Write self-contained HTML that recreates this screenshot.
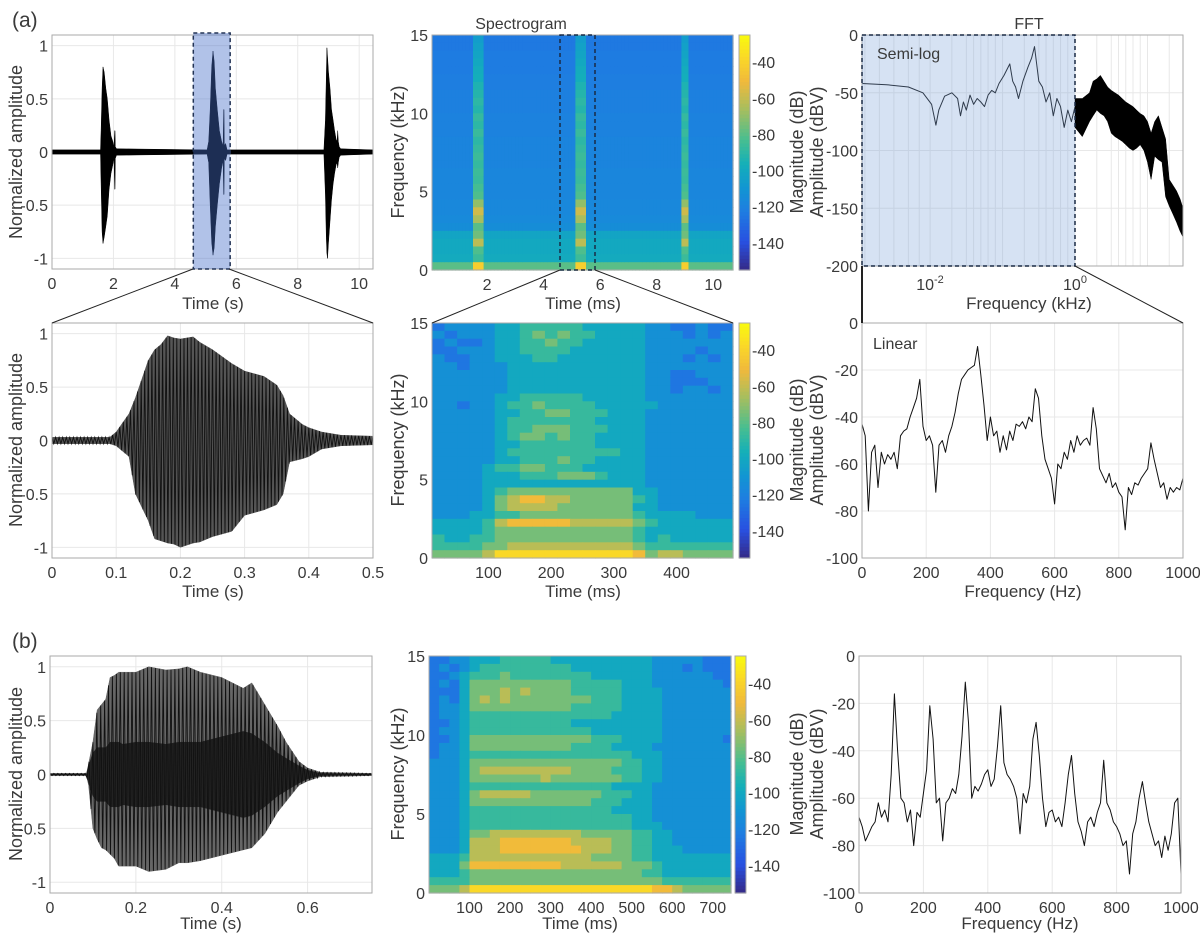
<!DOCTYPE html>
<html><head><meta charset="utf-8">
<style>
html,body{margin:0;padding:0;background:#fff;}
svg{display:block;font-family:"Liberation Sans",sans-serif;}
text{fill:#3a3a3a;}
</style></head>
<body>
<svg id="fig" width="1200" height="938" viewBox="0 0 1200 938" xmlns="http://www.w3.org/2000/svg"></svg>
<script>
// ---------------- DATA ----------------
const wf1T  = [0,1.58,1.6,1.63,1.66,1.7,1.75,1.8,1.86,1.92,1.98,2.02,2.04,2.05,2.06,2.1,5.05,5.1,5.15,5.2,5.24,5.28,5.32,5.38,5.45,5.52,5.57,5.59,5.6,5.61,5.65,5.7,8.85,8.9,8.93,8.95,8.97,9.0,9.05,9.1,9.15,9.2,9.25,9.28,9.3,9.32,9.35,9.4,10.45];
const wf1Up = [.02,.02,.2,.6,.8,.75,.6,.5,.3,.15,.1,.05,.2,.2,.05,.03,.02,.1,.4,.8,.95,.85,.6,.4,.2,.1,.06,.4,.4,.06,.08,.02,.02,.3,.7,.98,.9,.75,.6,.4,.3,.2,.12,.1,.2,.1,.05,.03,.02];
const wf1Lo = [-.02,-.02,-.3,-.75,-.86,-.8,-.7,-.6,-.35,-.2,-.12,-.06,-.35,-.35,-.06,-.03,-.02,-.1,-.5,-.85,-.97,-.9,-.7,-.5,-.3,-.15,-.08,-.4,-.4,-.06,-.08,-.02,-.02,-.4,-.8,-.95,-1.0,-.85,-.65,-.45,-.3,-.2,-.12,-.1,-.15,-.1,-.05,-.03,-.02];
const wf2T  = [0,.09,.1,.12,.13,.15,.16,.17,.18,.19,.2,.22,.23,.25,.28,.3,.33,.35,.36,.37,.39,.4,.42,.45,.5];
const wf2Up = [.03,.03,.08,.25,.4,.75,.85,.9,.98,.96,.95,.97,.92,.85,.72,.65,.6,.52,.42,.25,.15,.12,.08,.05,.04];
const wf2Lo = [-.03,-.03,-.05,-.15,-.5,-.75,-.92,-.94,-.96,-.97,-1.0,-.96,-.95,-.9,-.85,-.7,-.65,-.6,-.5,-.2,-.17,-.15,-.08,-.05,-.04];
const wf2F0 = 180;
const wf3T  = [0,.085,.09,.1,.11,.12,.13,.14,.15,.16,.17,.2,.23,.27,.3,.32,.35,.4,.45,.47,.5,.53,.55,.58,.6,.63,.75];
const wf3Up = [.01,.01,.1,.3,.6,.65,.7,.9,.92,.95,.95,.95,1.0,.97,.98,1.0,.95,.9,.8,.85,.65,.45,.3,.12,.06,.02,.01];
const wf3Lo = [-.01,-.01,-.1,-.5,-.6,-.68,-.7,-.74,-.78,-.85,-.85,-.85,-.9,-.88,-.82,-.82,-.8,-.75,-.7,-.68,-.55,-.35,-.25,-.1,-.06,-.02,-.01];
const wf3Inner = [.005,.005,.08,.2,.25,.25,.25,.3,.3,.3,.28,.3,.3,.28,.3,.3,.3,.35,.4,.38,.3,.2,.15,.08,.04,.01,.005];
const wf3F0 = 110;

const sp1Bg    = [-124,-124,-123,-123,-123,-122,-122,-121,-121,-121,-120,-120,-120,-119,-119,-119,-119,-118,-118,-118,-118,-117,-117,-116,-114,-102,-100,-100,-99,-80];
const sp1Event = [-106,-104,-102,-100,-98,-97,-94,-92,-90,-92,-88,-90,-87,-90,-88,-86,-88,-86,-87,-84,-82,-70,-58,-66,-80,-76,-62,-82,-86,-42];
const sp1Times = [1.72, 5.3, 9.0];
const sp1Width = [0.32, 0.32, 0.32];
const sp2T0 = 10, sp2Dt = 20;
const sp2Rows = [
"2333"+"3"+"4455555444443"+"322322",
"3233"+"3"+"4456565544443"+"332323",
"2322"+"3"+"4455655444443"+"333333",
"2233"+"3"+"4455554444443"+"333233",
"3223"+"3"+"4445544444443"+"332323",
"3323"+"3"+"3444444444443"+"333333",
"3333"+"3"+"3444444444443"+"322333",
"3333"+"3"+"3444444444443"+"322233",
"3333"+"3"+"3444444444443"+"323323",
"3333"+"3"+"4455555444443"+"333333",
"3323"+"3"+"4556555544444"+"333333",
"3333"+"3"+"4455665554443"+"333333",
"3333"+"3"+"4555555544443"+"333333",
"3333"+"3"+"4556665554443"+"333333",
"3333"+"3"+"4566565544443"+"333333",
"3333"+"3"+"4455555544443"+"333333",
"3333"+"3"+"4555555555443"+"333333",
"3333"+"3"+"4455565544443"+"333333",
"3333"+"4"+"5566555444443"+"333333",
"3333"+"4"+"4455566654443"+"333333",
"3333"+"4"+"4444444444443"+"333333",
"3333"+"4"+"5666666666644"+"333333",
"3333"+"4"+"6788776666654"+"333333",
"3333"+"4"+"6777766666644"+"333333",
"3334"+"4"+"5566666666654"+"444333",
"4444"+"5"+"7888887777765"+"444444",
"4444"+"5"+"6666666666654"+"444444",
"5445"+"5"+"6666666666654"+"544444",
"5555"+"6"+"6777777777765"+"555555",
"6666"+"7"+"9999999999986"+"776666"];
const sp3T0 = 0, sp3Dt = 25;
const sp3Rows = [
"223"+"3"+"44455555444444444433"+"333222",
"232"+"3"+"45555555554444444433"+"323222",
"223"+"4"+"55565555555544444433"+"333322",
"232"+"4"+"66666666665555544433"+"333332",
"222"+"4"+"66676766665555544443"+"333333",
"232"+"4"+"67676666666655544443"+"333333",
"233"+"4"+"66666666665555544443"+"333333",
"233"+"4"+"55555555555555444443"+"333333",
"223"+"4"+"55555555554444444443"+"333333",
"233"+"4"+"55555555555544444443"+"333333",
"223"+"4"+"66666666666655544443"+"333332",
"233"+"4"+"66666666665555444433"+"333333",
"233"+"4"+"55555555555555554443"+"333333",
"333"+"4"+"66666666666666655443"+"333333",
"333"+"4"+"67777777776666555443"+"333333",
"333"+"4"+"66666667666666655443"+"333333",
"333"+"4"+"55555555555555444433"+"333333",
"333"+"4"+"67777766666665554433"+"333333",
"333"+"4"+"66666666666655544433"+"333333",
"333"+"4"+"55555555555555444433"+"333333",
"333"+"4"+"55555555555555554433"+"333333",
"333"+"4"+"55555555555555554443"+"333333",
"333"+"4"+"66777777777666665544"+"333333",
"333"+"4"+"77788888887777665544"+"333333",
"333"+"4"+"77788888888777665544"+"433333",
"444"+"5"+"77777777777766665544"+"444444",
"444"+"6"+"88888888877777766654"+"444444",
"444"+"5"+"66666666666666666554"+"444444",
"555"+"5"+"66666666666666666665"+"555555",
"666"+"7"+"99999999999999999988"+"766666"];

const fftLogF  = [-2.94,-2.6,-2.3,-2.1,-1.98,-1.92,-1.88,-1.8,-1.7,-1.62,-1.58,-1.54,-1.5,-1.45,-1.4,-1.35,-1.3,-1.25,-1.2,-1.15,-1.1,-1.05,-0.98,-0.9,-0.86,-0.82,-0.78,-0.72,-0.65,-0.6,-0.56,-0.5,-0.45,-0.4,-0.35,-0.3,-0.25,-0.2,-0.15,-0.1,-0.05,0];
const fftLogDb = [-42,-43,-45,-50,-60,-78,-65,-53,-50,-55,-70,-58,-65,-52,-60,-55,-58,-62,-52,-48,-50,-42,-35,-25,-40,-45,-55,-40,-28,-20,-10,-40,-45,-58,-50,-70,-55,-62,-80,-65,-75,-62];
const fftHiF   = [0,0.1,0.2,0.25,0.3,0.35,0.4,0.45,0.5,0.55,0.6,0.65,0.7,0.75,0.8,0.85,0.9,0.95,1.0,1.05,1.1,1.15,1.2,1.25,1.3,1.35,1.4,1.45,1.49];
const fftHiUp  = [-55,-55,-50,-40,-38,-35,-40,-45,-48,-50,-52,-55,-58,-60,-62,-65,-68,-70,-75,-85,-75,-70,-80,-90,-125,-130,-135,-142,-150];
const fftHiLo  = [-80,-88,-75,-70,-65,-68,-70,-75,-85,-88,-90,-92,-95,-98,-100,-98,-95,-100,-110,-125,-105,-108,-110,-140,-148,-155,-162,-170,-175];

const fft2F = []; for (let i=0;i<=100;i++) fft2F.push(i*10);
const fft2Db = [-43,-48,-80,-55,-52,-70,-55,-60,-56,-58,-55,-62,-48,-46,-45,-40,-36,-32,-24,-44,-50,-48,-52,-72,-52,-50,-55,-48,-44,-38,-30,-24,-22,-20,-19,-18,-10,-22,-35,-50,-40,-48,-46,-55,-48,-54,-46,-50,-43,-44,-42,-45,-40,-42,-28,-32,-48,-58,-62,-66,-77,-60,-62,-55,-58,-50,-55,-48,-52,-50,-49,-52,-36,-45,-62,-65,-68,-64,-70,-68,-72,-74,-88,-70,-73,-68,-69,-66,-64,-62,-51,-58,-64,-70,-68,-75,-70,-72,-70,-71,-66];
const fft3F = []; for (let i=0;i<=100;i++) fft3F.push(i*10);
const fft3Db = [-68,-72,-78,-75,-72,-70,-62,-68,-65,-70,-50,-16,-40,-60,-62,-70,-65,-80,-66,-68,-58,-48,-21,-35,-62,-60,-78,-62,-60,-56,-58,-50,-34,-11,-28,-60,-55,-57,-54,-50,-48,-55,-52,-38,-21,-45,-50,-52,-55,-60,-75,-58,-62,-55,-35,-28,-42,-60,-72,-66,-65,-70,-68,-72,-62,-50,-42,-58,-70,-74,-80,-70,-68,-72,-66,-62,-44,-62,-65,-70,-72,-75,-80,-78,-92,-75,-70,-60,-53,-62,-70,-75,-80,-78,-85,-76,-82,-75,-62,-60,-92];

// ---------------- DRAWING ----------------
const NS='http://www.w3.org/2000/svg';
const svg=document.getElementById('fig');
function mk(tag,parent){const e=document.createElementNS(NS,tag);parent.appendChild(e);return e;}
function set(e,a){for(const k in a)e.setAttribute(k,a[k]);return e;}
function txt(parent,x,y,s,size,anchor,rot){
  const t=mk('text',parent);
  set(t,{x:x,y:y,'font-size':size,'text-anchor':anchor||'middle'});
  if(rot) t.setAttribute('transform','rotate(-90 '+x+' '+y+')');
  t.textContent=s;return t;
}
const pStops=[0,0.12,0.25,0.35,0.45,0.55,0.68,0.8,0.9,1];
const pCols=[[53,42,135],[40,80,225],[30,125,225],[18,150,210],[20,175,185],[70,190,145],[165,190,95],[240,185,60],[250,215,40],[249,251,14]];
function cmap(db){
  let v=(db+155)/130;v=Math.max(0,Math.min(1,v));
  let i=0;while(i<pStops.length-2&&v>pStops[i+1])i++;
  const f=(v-pStops[i])/(pStops[i+1]-pStops[i]);
  const a=pCols[i],b=pCols[i+1];
  return 'rgb('+a.map((c,k)=>Math.round(c+(b[k]-c)*f)).join(',')+')';
}
function axes(name,cfg){
  const g=mk('g',svg);
  
  
  const sx=v=>cfg.x+(v-cfg.xd[0])/(cfg.xd[1]-cfg.xd[0])*cfg.w;
  const sy=v=>cfg.y+cfg.h-(v-cfg.yd[0])/(cfg.yd[1]-cfg.yd[0])*cfg.h;
  const bg=mk('g',g), plot=mk('g',g), fg=mk('g',g);
  if(cfg.grid!==false){
    (cfg.xgrid||cfg.xt).forEach(v=>{const l=mk('line',bg);set(l,{x1:sx(v),x2:sx(v),y1:cfg.y,y2:cfg.y+cfg.h,stroke:'#e8e8e8','stroke-width':1});});
    cfg.yt.forEach(v=>{const l=mk('line',bg);set(l,{x1:cfg.x,x2:cfg.x+cfg.w,y1:sy(v),y2:sy(v),stroke:'#e8e8e8','stroke-width':1});});
  }
  const tl=mk('g',fg);
  
  
  cfg.xt.forEach((v,i)=>{if(cfg.xl[i]!=='')txt(tl,sx(v),cfg.y+cfg.h+20,cfg.xl[i],16);});
  cfg.yt.forEach((v,i)=>{txt(tl,cfg.x-4,sy(v)+6,cfg.yl[i],16,'end');});
  const box=mk('rect',fg);
  set(box,{x:cfg.x,y:cfg.y,width:cfg.w,height:cfg.h,fill:'none',stroke:'#aaaaaa','stroke-width':1});
  
  
  return {g,plot,fg,sx,sy,cfg};
}
function interp(T,V,t){
  if(t<=T[0])return V[0];
  for(let i=1;i<T.length;i++){if(t<=T[i]){const f=(t-T[i-1])/(T[i]-T[i-1]);return V[i-1]+(V[i]-V[i-1])*f;}}
  return V[V.length-1];
}
function envFill(ax,T,U,L,color,name,sw){
  let d='M'+T.map((t,i)=>ax.sx(t).toFixed(1)+','+ax.sy(U[i]).toFixed(1)).join('L');
  for(let i=T.length-1;i>=0;i--) d+='L'+ax.sx(T[i]).toFixed(1)+','+ax.sy(L[i]).toFixed(1);
  const p=mk('path',ax.plot);
  set(p,{d:d+'Z',fill:color,stroke:color,'stroke-width':sw===undefined?0.5:sw});
  
  
}
function zigzag(ax,T,U,L,f0,name,color){
  const half=0.5/f0;let d='',k=0;
  for(let t=T[0];t<=T[T.length-1];t+=half,k++){
    const v=(k%2===0)?interp(T,U,t):interp(T,L,t);
    d+=(k===0?'M':'L')+ax.sx(t).toFixed(1)+','+ax.sy(v).toFixed(1);
  }
  const p=mk('path',ax.plot);
  set(p,{d:d,fill:'none',stroke:color,'stroke-width':0.9});
  
  
}
function line(ax,X,Y,name,w){
  const d='M'+X.map((x,i)=>ax.sx(x).toFixed(1)+','+ax.sy(Y[i]).toFixed(1)).join('L');
  const p=mk('path',ax.plot);
  set(p,{d:d,fill:'none',stroke:'#111','stroke-width':w||1,'stroke-linejoin':'round'});
  
  
}
function specGrid(ax,rows,t0,dt,name){
  const g=mk('g',ax.plot);
  
  
  const nr=rows.length, df=15/nr;
  rows.forEach((row,r)=>{
    const fTop=15-r*df, fBot=fTop-df;
    for(let c=0;c<row.length;c++){
      const ta=Math.max(ax.cfg.xd[0],t0+c*dt), tb=Math.min(ax.cfg.xd[1],t0+(c+1)*dt);
      if(tb<=ta)continue;
      const db=-150+parseInt(row[c])*12.5;
      const x=ax.sx(ta),y=ax.sy(fTop);
      const rc=mk('rect',g);
      set(rc,{x:x.toFixed(1),y:y.toFixed(1),width:(ax.sx(tb)-x+0.6).toFixed(1),height:(ax.sy(fBot)-y+0.6).toFixed(1),fill:cmap(db)});
    }
  });
}
function colorbar(x,y,h,name){
  const g=mk('g',svg);
  
  
  const n=65;
  for(let i=0;i<n;i++){const r=mk('rect',g);set(r,{x:x,y:(y+i*h/n).toFixed(1),width:11,height:(h/n+0.6).toFixed(1),fill:cmap(-25-130*(i+0.5)/n)});}
  const b=mk('rect',g);set(b,{x:x,y:y,width:11,height:h,fill:'none',stroke:'#aaa'});
  [-40,-60,-80,-100,-120,-140].forEach(v=>{txt(g,x+13,y+(-25-v)/130*h+6,String(v),16,'start');});
}
function conn(x1,y1,x2,y2,name,w){
  const l=mk('line',svg);set(l,{x1,y1,x2,y2,stroke:'#222','stroke-width':w||1});
  
  
}

// ===== Row 1 =====
const a1=axes('waveform-full-axes',{x:52,y:35,w:321,h:234,xd:[0,10.45],yd:[-1.1,1.1],xt:[0,2,4,6,8,10],xl:['0','2','4','6','8','10'],yt:[1,0.5,0,-0.5,-1],yl:['1','0.5','0','-0.5','-1']});
envFill(a1,wf1T,wf1Up,wf1Lo,'#000','waveform-full-trace');
const hb=mk('rect',a1.fg);
set(hb,{x:a1.sx(4.6),y:33,width:a1.sx(5.8)-a1.sx(4.6),height:269-33,fill:'rgb(70,110,200)','fill-opacity':0.42,stroke:'#223355','stroke-width':1.5,'stroke-dasharray':'4,3'});



const s1=axes('spectrogram-full-axes',{x:432,y:35,w:301,h:235,xd:[0.05,10.7],yd:[0,15],xt:[2,4,6,8,10],xl:['2','4','6','8','10'],yt:[15,10,5,0],yl:['15','10','5','0'],grid:false});
{
  const g=mk('g',s1.plot);
  
  
  const dt=0.125, nr=sp1Bg.length, df=15/nr;
  for(let t=0;t<10.7;t+=dt){
    const tc=t+dt/2;
    let ev=false;
    sp1Times.forEach((et,i)=>{if(Math.abs(tc-et)<sp1Width[i]/2)ev=true;});
    for(let r=0;r<nr;r++){
      const db=ev?Math.max(sp1Bg[r],sp1Event[r]):sp1Bg[r];
      const ta=Math.max(0.05,t),x=s1.sx(ta),y=s1.sy(15-r*df);
      const rc=mk('rect',g);
      set(rc,{x:x.toFixed(1),y:y.toFixed(1),width:(s1.sx(Math.min(10.7,t+dt))-x+0.6).toFixed(1),height:(s1.sy(15-(r+1)*df)-y+0.6).toFixed(1),fill:cmap(db)});
    }
  }
}
const sb=mk('rect',s1.fg);
set(sb,{x:560,y:35,width:35,height:235,fill:'none',stroke:'#1a2a44','stroke-width':1.5,'stroke-dasharray':'4,3'});


colorbar(739,35,235,'colorbar-row1');

const f1=axes('fft-semilog-axes',{x:862,y:35,w:321,h:231,xd:[-2.94,1.49],yd:[-200,0],xt:[-2,0],xl:['',''],xgrid:[-2.9,-2.7,-2.5,-2.3,-2.15,-2,-1.7,-1.5,-1.4,-1.3,-1.2,-1.1,-1,-0.7,-0.5,-0.4,-0.3,-0.2,-0.1,0,0.3,0.5,0.6,0.7,0.8,0.9,1,1.3],yt:[0,-50,-100,-150,-200],yl:['0','-50','-100','-150','-200']});
line(f1,fftLogF,fftLogDb,'fft-semilog-low-trace',1);
envFill(f1,fftHiF,fftHiUp,fftHiLo,'#000','fft-semilog-high-trace');
const fb=mk('rect',f1.fg);
set(fb,{x:862,y:35,width:1075-862,height:231,fill:'rgb(120,160,215)','fill-opacity':0.3,stroke:'#1a2a44','stroke-width':1.5,'stroke-dasharray':'4,3'});


{
  const t1=txt(f1.fg,930,290,'10',16);const s=mk('tspan',t1);set(s,{dy:-7,'font-size':11});s.textContent='-2';
  const t2=txt(f1.fg,1075,290,'10',16);const s2=mk('tspan',t2);set(s2,{dy:-7,'font-size':11});s2.textContent='0';
}
txt(svg,877,59,'Semi-log',16,'start');

// ===== Row 2 =====
const a2=axes('waveform-zoom-axes',{x:52,y:323,w:321,h:235,xd:[0,0.5],yd:[-1.1,1.1],xt:[0,0.1,0.2,0.3,0.4,0.5],xl:['0','0.1','0.2','0.3','0.4','0.5'],yt:[1,0.5,0,-0.5,-1],yl:['1','0.5','0','-0.5','-1']});
envFill(a2,wf2T,wf2Up,wf2Lo,'#555','waveform-zoom-envelope');
zigzag(a2,wf2T,wf2Up,wf2Lo,wf2F0,'waveform-zoom-trace','#111');
const s2=axes('spectrogram-zoom-axes',{x:432,y:323,w:301,h:235,xd:[10,490],yd:[0,15],xt:[100,200,300,400],xl:['100','200','300','400'],yt:[15,10,5,0],yl:['15','10','5','0'],grid:false});
specGrid(s2,sp2Rows,sp2T0,sp2Dt,'spectrogram-zoom-cells');
colorbar(739,323,235,'colorbar-row2');
const f2=axes('fft-linear-axes',{x:862,y:323,w:321,h:235,xd:[0,1000],yd:[-100,0],xt:[0,200,400,600,800,1000],xl:['0','200','400','600','800','1000'],yt:[0,-20,-40,-60,-80,-100],yl:['0','-20','-40','-60','-80','-100']});
line(f2,fft2F,fft2Db,'fft-linear-trace',1);
txt(svg,873,349,'Linear',16,'start');

// ===== Row 3 =====
const a3=axes('waveform-b-axes',{x:50,y:656,w:322,h:237,xd:[0,0.75],yd:[-1.1,1.1],xt:[0,0.2,0.4,0.6],xl:['0','0.2','0.4','0.6'],yt:[1,0.5,0,-0.5,-1],yl:['1','0.5','0','-0.5','-1']});
envFill(a3,wf3T,wf3Up,wf3Lo,'#666','waveform-b-envelope');
envFill(a3,wf3T,wf3Inner,wf3Inner.map(v=>-v),'#222','waveform-b-inner');
zigzag(a3,wf3T,wf3Up,wf3Lo,wf3F0,'waveform-b-trace','#111');
const s3=axes('spectrogram-b-axes',{x:429,y:656,w:302,h:237,xd:[0,745],yd:[0,15],xt:[100,200,300,400,500,600,700],xl:['100','200','300','400','500','600','700'],yt:[15,10,5,0],yl:['15','10','5','0'],grid:false});
specGrid(s3,sp3Rows,sp3T0,sp3Dt,'spectrogram-b-cells');
colorbar(735,656,237,'colorbar-row3');
const f3=axes('fft-b-axes',{x:859,y:656,w:322,h:237,xd:[0,1000],yd:[-100,0],xt:[0,200,400,600,800,1000],xl:['0','200','400','600','800','1000'],yt:[0,-20,-40,-60,-80,-100],yl:['0','-20','-40','-60','-80','-100']});
line(f3,fft3F,fft3Db,'fft-b-trace',1);

// ===== connectors =====
conn(193,269,52,323,'connector-wave-left');
conn(229,269,373,323,'connector-wave-right');
conn(560,270,432,323,'connector-spec-left');
conn(595,270,733,323,'connector-spec-right');
conn(862,266,862,323,'connector-fft-left',2);
conn(1075,266,1183,323,'connector-fft-right');

// ===== labels =====
const L=mk('g',svg);


txt(L,12,27,'(a)',21,'start');
txt(L,12,648,'(b)',21,'start');
txt(L,521,29,'Spectrogram',16);
txt(L,1029,29,'FFT',16);
[[152,309],[440,597],[774,929]].forEach((r,i)=>{
  txt(L,22,r[0],'Normalized amplitude',18,'middle',true);
  txt(L,i<2?213:211,r[1],'Time (s)',17);
  txt(L,404,r[0],'Frequency (kHz)',18,'middle',true);
  txt(L,i<2?583:580,r[1],'Time (ms)',17);
  txt(L,803,r[0],'Magnitude (dB)',18,'middle',true);
  txt(L,823,r[0],'Amplitude (dBV)',18,'middle',true);
});
txt(L,1029,309,'Frequency (kHz)',17);
txt(L,1023,597,'Frequency (Hz)',17);
txt(L,1020,929,'Frequency (Hz)',17);
</script>
</body></html>
